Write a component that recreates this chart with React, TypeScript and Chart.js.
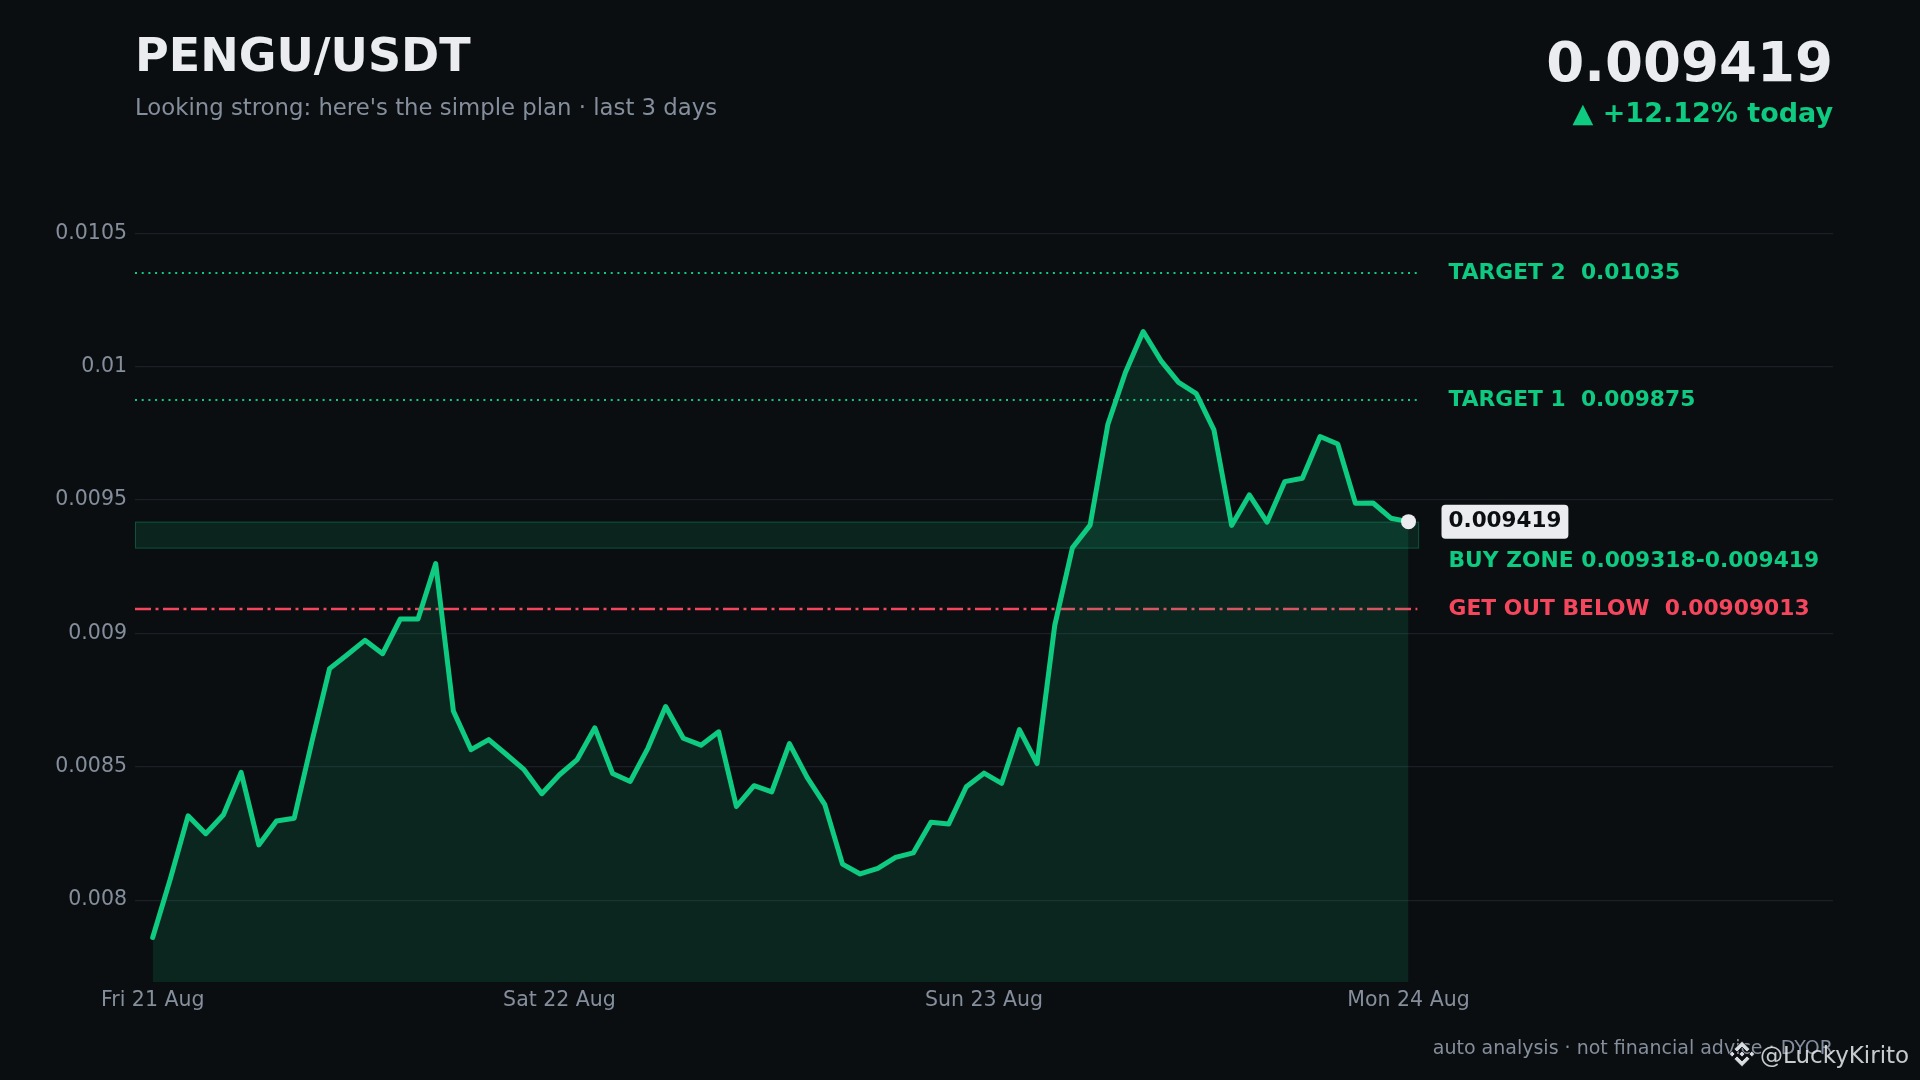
import { useEffect, useRef } from "react"
import { Chart, registerables, type Plugin } from "chart.js"

Chart.register(...registerables)

// hourly closes, Fri 21 Aug -> Mon 24 Aug
const prices = [
  0.00786, 0.00808, 0.008316, 0.008249, 0.00832, 0.008479, 0.008207, 0.008297, 0.008307, 0.008594,
  0.008868, 0.00892, 0.008974, 0.008924, 0.009054, 0.009054, 0.009262, 0.008709, 0.008564, 0.008602,
  0.008546, 0.008489, 0.008399, 0.00847, 0.008527, 0.008646, 0.008475, 0.008445, 0.00857, 0.008726,
  0.008607, 0.008581, 0.008631, 0.008351, 0.008429, 0.008406, 0.008587, 0.00846, 0.008358, 0.008135,
  0.008098, 0.008119, 0.00816, 0.008177, 0.008292, 0.008285, 0.008425, 0.008476, 0.008438, 0.008639,
  0.008512, 0.00903, 0.009321, 0.009406, 0.009783, 0.009979, 0.010132, 0.010023, 0.009941, 0.009899,
  0.009763, 0.009405, 0.009519, 0.009417, 0.009569, 0.009582, 0.009738, 0.00971, 0.009488, 0.009489,
  0.009432, 0.009419,
]

const xTickIndex = [0, 23, 47, 71]
const xTickLabels = ["Fri 21 Aug", "Sat 22 Aug", "Sun 23 Aug", "Mon 24 Aug"]
const yTicks = [0.008, 0.0085, 0.009, 0.0095, 0.01, 0.0105]

const target2 = 0.01035
const target1 = 0.009875
const buyLow = 0.009318
const buyHigh = 0.009419
const stopLevel = 0.00909013
const lastPrice = 0.009419
const changePct = 12.12

const GREEN = "#0ecb81"
const RED = "#f6465d"
const TEXT = "#eaecef"
const MUTED = "#848e9c"
const BG = "#0b0e11"
const FONT = "'DejaVu Sans', sans-serif"

const planPlugin: Plugin<"line"> = {
  id: "plan",
  beforeDatasetsDraw(chart) {
    const { ctx, chartArea, scales } = chart
    const x = scales.x
    const y = scales.y
    const left = chartArea.left
    const lineEnd = x.getPixelForValue(prices.length - 0.5)
    const zoneEnd = x.getPixelForValue(prices.length - 0.4)
    ctx.save()

    // buy zone band
    const zt = y.getPixelForValue(buyHigh)
    const zb = y.getPixelForValue(buyLow)
    ctx.fillStyle = "rgba(14,203,129,0.12)"
    ctx.fillRect(left, zt, zoneEnd - left, zb - zt)
    ctx.strokeStyle = "rgba(14,203,129,0.28)"
    ctx.lineWidth = 1
    ctx.strokeRect(left + 0.5, zt + 0.5, zoneEnd - left - 1, zb - zt - 1)

    // targets
    ctx.strokeStyle = GREEN
    ctx.lineWidth = 2
    ctx.setLineDash([2, 4.7])
    for (const t of [target1, target2]) {
      const py = Math.round(y.getPixelForValue(t))
      ctx.beginPath()
      ctx.moveTo(left, py)
      ctx.lineTo(lineEnd, py)
      ctx.stroke()
    }

    // stop
    ctx.strokeStyle = RED
    ctx.lineWidth = 2.5
    ctx.setLineDash([16, 4.5, 3, 4.5])
    const sy = Math.round(y.getPixelForValue(stopLevel))
    ctx.beginPath()
    ctx.moveTo(left, sy)
    ctx.lineTo(lineEnd, sy)
    ctx.stroke()
    ctx.restore()
  },
  afterDatasetsDraw(chart) {
    const { ctx, scales } = chart
    const x = scales.x
    const y = scales.y
    const lx = x.getPixelForValue(prices.length - 1) + 40
    ctx.save()
    ctx.font = `bold 21.8px ${FONT}`
    ctx.textBaseline = "middle"
    ctx.textAlign = "left"

    ctx.fillStyle = GREEN
    ctx.fillText(`TARGET 2  ${target2}`, lx, y.getPixelForValue(target2))
    ctx.fillText(`TARGET 1  ${target1}`, lx, y.getPixelForValue(target1))
    ctx.fillText(`BUY ZONE ${buyLow}-${buyHigh}`, lx, y.getPixelForValue(buyLow) + 13)
    ctx.fillStyle = RED
    ctx.fillText(`GET OUT BELOW  ${stopLevel}`, lx, y.getPixelForValue(stopLevel))

    // last price badge
    ctx.font = `bold 21.5px ${FONT}`
    const label = `${lastPrice}`
    const by = y.getPixelForValue(lastPrice)
    const w = ctx.measureText(label).width
    ctx.fillStyle = TEXT
    ctx.beginPath()
    ctx.roundRect(lx - 7, by - 17, w + 14, 34, 4)
    ctx.fill()
    ctx.fillStyle = BG
    ctx.fillText(label, lx, by)
    ctx.restore()
  },
}

function PriceChart() {
  const canvasRef = useRef<HTMLCanvasElement>(null)
  const chartRef = useRef<Chart | null>(null)

  useEffect(() => {
    if (!canvasRef.current) return
    if (chartRef.current) chartRef.current.destroy()

    const last = prices.length - 1
    chartRef.current = new Chart(canvasRef.current, {
      type: "line",
      data: {
        datasets: [
          {
            data: prices.map((p, i) => ({ x: i, y: p })),
            borderColor: GREEN,
            borderWidth: 5,
            borderJoinStyle: "round",
            borderCapStyle: "round",
            backgroundColor: "rgba(14,203,129,0.13)",
            fill: "start",
            tension: 0,
            pointRadius: (c) => (c.dataIndex === last ? 7.5 : 0),
            pointBackgroundColor: TEXT,
            pointBorderWidth: 0,
            pointHoverRadius: 0,
          },
        ],
      },
      options: {
        animation: false,
        responsive: false,
        devicePixelRatio: 1,
        layout: { padding: { top: 228, right: 87, bottom: 0, left: 0 } },
        plugins: { legend: { display: false }, tooltip: { enabled: false } },
        scales: {
          x: {
            type: "linear",
            min: -1,
            max: 95,
            afterFit: (s) => {
              s.height = 98
            },
            afterBuildTicks: (s) => {
              s.ticks = xTickIndex.map((value) => ({ value }))
            },
            grid: { display: false, drawTicks: false },
            border: { display: false },
            ticks: {
              autoSkip: false,
              maxRotation: 0,
              padding: 6,
              color: MUTED,
              font: { family: FONT, size: 20.5 },
              callback: (v) => xTickLabels[xTickIndex.indexOf(Number(v))] ?? "",
            },
          },
          y: {
            min: 0.007693,
            max: 0.01052,
            afterFit: (s) => {
              s.width = 135
            },
            afterBuildTicks: (s) => {
              s.ticks = yTicks.map((value) => ({ value }))
            },
            grid: { color: "#1b1f26", lineWidth: 1.2, drawTicks: false },
            border: { display: false },
            ticks: {
              padding: 8,
              color: MUTED,
              font: { family: FONT, size: 20.5 },
              callback: (v) => String(v),
            },
          },
        },
      },
      plugins: [planPlugin],
    })

    return () => {
      if (chartRef.current) {
        chartRef.current.destroy()
        chartRef.current = null
      }
    }
  }, [])

  return (
    <canvas
      ref={canvasRef}
      width={1920}
      height={1080}
      style={{ position: "absolute", left: 0, top: 0, width: 1920, height: 1080 }}
    />
  )
}

function BinanceMark() {
  return (
    <svg width="26" height="26" viewBox="-2 -2 130 130" style={{ position: "absolute", left: 1729, top: 1041 }}>
      <path
        fill="#d9dce1"
        stroke="#0b0e11"
        strokeWidth="4"
        d="M38.17 53.06L63 28.23l24.84 24.84 14.45-14.45L63 -0.67 23.72 38.61z M-0.67 63l14.45-14.45L28.23 63 13.78 77.45z M38.17 72.94L63 97.77l24.84-24.84 14.45 14.44L63 126.67 23.72 87.39z M97.77 63l14.45-14.45L126.67 63l-14.45 14.45z M77.66 63L63 48.33 48.34 63 63 77.66z"
      />
    </svg>
  )
}

export default function App() {
  const abs = { position: "absolute" as const, lineHeight: 1, whiteSpace: "nowrap" as const }
  return (
    <div
      style={{
        position: "fixed",
        left: 0,
        top: 0,
        width: 1920,
        height: 1080,
        background: BG,
        fontFamily: FONT,
        overflow: "hidden",
      }}
    >
      <PriceChart />
      <div style={{ ...abs, left: 135, top: 32, fontSize: 46, fontWeight: 700, color: TEXT }}>PENGU/USDT</div>
      <div style={{ ...abs, left: 135, top: 95.5, fontSize: 22.8, color: MUTED }}>
        Looking strong: here's the simple plan · last 3 days
      </div>
      <div style={{ ...abs, right: 87, top: 35, fontSize: 54.6, fontWeight: 700, color: TEXT }}>{lastPrice}</div>
      <div style={{ ...abs, right: 87, top: 99, fontSize: 27, fontWeight: 700, color: GREEN }}>
        ▲ +{changePct.toFixed(2)}% today
      </div>
      <div style={{ ...abs, right: 87, top: 1038, fontSize: 19, color: MUTED }}>
        auto analysis · not financial advice · DYOR
      </div>
      <BinanceMark />
      <div style={{ ...abs, left: 1760, top: 1044, fontSize: 23, color: "rgba(234,236,239,0.85)" }}>@LuckyKirito</div>
    </div>
  )
}
